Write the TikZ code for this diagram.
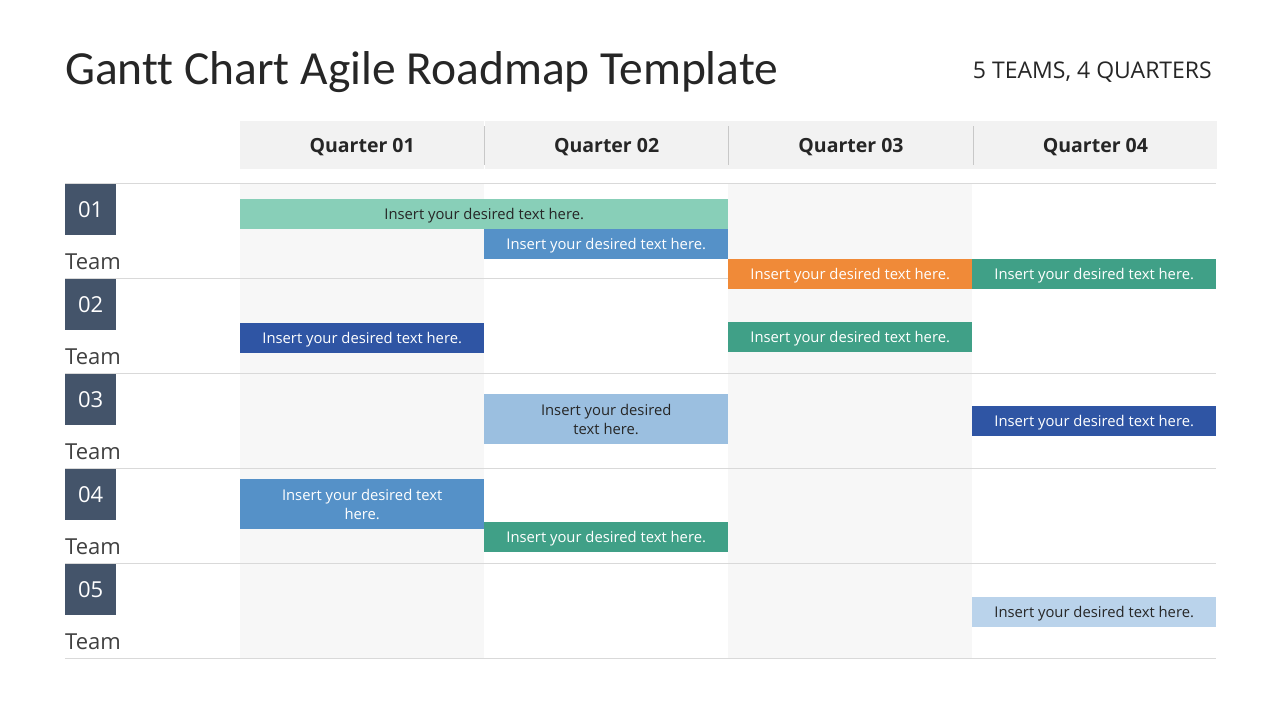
\documentclass[tikz,border=0pt]{standalone}
\usepackage{fontspec}
\setmainfont{Open Sans}
\newfontfamily\titlefont[Ligatures={NoCommon}]{Carlito}
\usepackage{tikz}
\usetikzlibrary{positioning}

\definecolor{inkdark}{HTML}{262626}
\definecolor{inkgray}{HTML}{404040}
\definecolor{headfill}{HTML}{F2F2F2}
\definecolor{colshade}{HTML}{F7F7F7}
\definecolor{rulegray}{HTML}{D9D9D9}
\definecolor{divgray}{HTML}{C8C8C8}
\definecolor{teamslate}{HTML}{44546A}
\definecolor{barmint}{HTML}{88CFB8}
\definecolor{barblue}{HTML}{5591C8}
\definecolor{barorange}{HTML}{F08A38}
\definecolor{barteal}{HTML}{40A087}
\definecolor{barnavy}{HTML}{2F55A4}
\definecolor{barsky}{HTML}{9BBFE0}
\definecolor{barpale}{HTML}{BAD3EB}

\begin{document}
\begin{tikzpicture}[
x=1pt, y=-1pt,
node distance=0pt,
qhead/.style={fill=headfill, minimum width=244pt, minimum height=48pt, inner sep=0pt, text depth=0pt, font=\fontsize{19.5}{22}\selectfont\bfseries, text=inkdark},
divider/.style={draw=divgray, line width=0.8pt},
rowrule/.style={draw=rulegray, line width=0.9pt},
teambox/.style={fill=teamslate, minimum size=51pt, inner sep=0pt, anchor=north west, text=white, font=\fontsize{22}{24}\selectfont},
teamlbl/.style={anchor=base west, inner sep=0pt, text=inkgray, font=\fontsize{22}{24}\selectfont},
bar/.style={anchor=north west, minimum width=244pt, minimum height=30pt, inner sep=0pt, text depth=0pt, align=center, text=white, font=\fontsize{14.8}{19}\selectfont},
darkbar/.style={bar, text=inkdark}
]
\useasboundingbox[fill=white] (0,0) rectangle (1280,720);

% title
\node[anchor=base west, inner sep=0pt, text=inkdark, font=\titlefont\fontsize{47.5}{50}\selectfont] (title) at (65,84) {Gantt Chart Agile Roadmap Template};
\node[anchor=base east, inner sep=0pt, text=inkdark, font=\fontsize{23}{25}\selectfont] (subtitle) at (1212,78) {5 TEAMS, 4 QUARTERS};

% quarter header
\node[qhead, anchor=north west] (q1) at (240,121) {Quarter 01};
\node[qhead, right=of q1] (q2) {Quarter 02};
\node[qhead, right=of q2] (q3) {Quarter 03};
\node[qhead, right=of q3] (q4) {Quarter 04};
\draw[divider] ([yshift=-5pt]q1.north east) -- ([yshift=4pt]q1.south east);
\draw[divider] ([yshift=-5pt]q2.north east) -- ([yshift=4pt]q2.south east);
\draw[divider] ([yshift=-5pt]q3.north east) -- ([yshift=4pt]q3.south east);

% shaded columns
\fill[colshade] (240,183) rectangle (484,658);
\fill[colshade] (728,183) rectangle (972,658);

% row rules
\draw[rowrule] (65,183) -- (1216,183);
\draw[rowrule] (65,278) -- (1216,278);
\draw[rowrule] (65,373) -- (1216,373);
\draw[rowrule] (65,468) -- (1216,468);
\draw[rowrule] (65,563) -- (1216,563);
\draw[rowrule] (65,658) -- (1216,658);

% teams
\node[teambox] (t1) at (65,184) {01};
\node[teamlbl] (t1lbl) at (65,269) {Team};
\node[teambox] (t2) at (65,279) {02};
\node[teamlbl] (t2lbl) at (65,364) {Team};
\node[teambox] (t3) at (65,374) {03};
\node[teamlbl] (t3lbl) at (65,459) {Team};
\node[teambox] (t4) at (65,469) {04};
\node[teamlbl] (t4lbl) at (65,554) {Team};
\node[teambox] (t5) at (65,564) {05};
\node[teamlbl] (t5lbl) at (65,649) {Team};

% bars, team 01
\node[darkbar, fill=barmint, minimum width=488pt] (b1a) at (240,199) {Insert your desired text here.};
\node[bar, fill=barblue] (b1b) at (484,229) {Insert your desired text here.};
\node[bar, fill=barorange] (b1c) at (728,259) {Insert your desired text here.};
\node[bar, fill=barteal] (b1d) at (972,259) {Insert your desired text here.};
% team 02
\node[bar, fill=barnavy] (b2a) at (240,323) {Insert your desired text here.};
\node[bar, fill=barteal] (b2b) at (728,322) {Insert your desired text here.};
% team 03
\node[darkbar, fill=barsky, minimum height=50pt] (b3a) at (484,394) {Insert your desired\\text here.};
\node[bar, fill=barnavy] (b3b) at (972,406) {Insert your desired text here.};
% team 04
\node[bar, fill=barblue, minimum height=50pt] (b4a) at (240,479) {Insert your desired text\\here.};
\node[bar, fill=barteal] (b4b) at (484,522) {Insert your desired text here.};
% team 05
\node[darkbar, fill=barpale] (b5a) at (972,597) {Insert your desired text here.};
\end{tikzpicture}
\end{document}
